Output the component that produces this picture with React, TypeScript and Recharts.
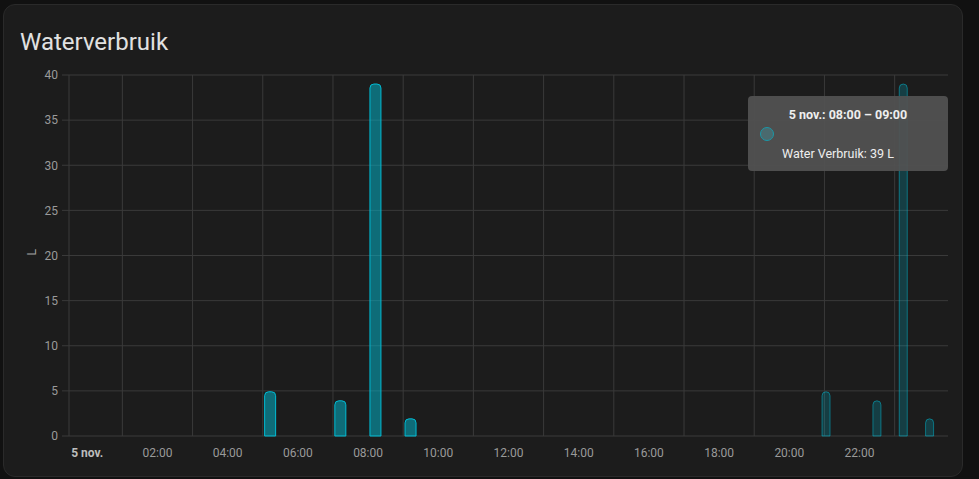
import { BarChart, Bar, XAxis, YAxis, CartesianGrid, Label } from 'recharts';

// hourly water usage on 5 nov. (x = hour of the day, as placed in the picture)
const usageHours = [5.2, 7.2, 8.2, 9.2];
const usageLitres = [4.9, 3.9, 39, 1.9];
// second (faded) series
const compareHours = [21.05, 22.5, 23.25, 24.0];
const compareLitres = [4.9, 3.9, 39, 1.9];

const gridHours = [1, 3, 5, 7, 9, 11, 13, 15, 17, 19, 21, 23];
const labelHours = [0, 2, 4, 6, 8, 10, 12, 14, 16, 18, 20, 22];
const labelTexts = ['5 nov.', '02:00', '04:00', '06:00', '08:00', '10:00', '12:00', '14:00', '16:00', '18:00', '20:00', '22:00'];
const yTicks = [0, 5, 10, 15, 20, 25, 30, 35, 40];

const tooltipTitle = '5 nov.: 08:00 – 09:00';
const seriesName = 'Water Verbruik';
const tooltipValue = usageLitres[2];
const unit = 'L';

const data = [
  ...usageHours.map((t, i) => ({ t, usage: usageLitres[i], compare: null as number | null })),
  ...compareHours.map((t, i) => ({ t, usage: null as number | null, compare: compareLitres[i] })),
];

const CYAN = '#00bcd4';
const GRID = '#3a3a3a';

const HourLabel = (props: any) => {
  const { x, y, payload } = props;
  const idx = labelHours.indexOf(payload.value);
  const first = idx === 0;
  return (
    <text
      x={x}
      y={y - 9}
      textAnchor="middle"
      fontSize={12}
      fontWeight={first ? 700 : 400}
      fill={first ? '#bdbdbd' : '#9a9a9a'}
    >
      {labelTexts[idx]}
    </text>
  );
};

const NoLabel = () => <g />;

export default function App() {
  return (
    <div style={{ position: 'fixed', inset: 0, background: '#111111', fontFamily: 'Roboto, sans-serif' }}>
      <div
        style={{
          position: 'absolute',
          left: 3,
          top: 4,
          width: 958,
          height: 471,
          background: '#1c1c1c',
          border: '1px solid #2a2a2a',
          borderRadius: 12,
        }}
      />
      <div
        style={{
          position: 'absolute',
          left: 20,
          top: 27,
          fontSize: 24,
          color: '#e1e1e1',
          lineHeight: '30px',
        }}
      >
        Waterverbruik
      </div>
      <div style={{ position: 'absolute', left: 0, top: 0 }}>
        <BarChart
          width={979}
          height={479}
          data={data}
          margin={{ top: 75, right: 31, left: 0, bottom: 13 }}
          style={{ fontFamily: 'Roboto, sans-serif' }}
        >
          <CartesianGrid stroke={GRID} xAxisId="grid" syncWithTicks />
          <XAxis
            xAxisId="grid"
            dataKey="t"
            type="number"
            domain={[-0.52, 24.52]}
            allowDataOverflow
            ticks={gridHours}
            interval={0}
            height={0}
            tickSize={8}
            tick={NoLabel}
            tickLine={{ stroke: GRID }}
            axisLine={{ stroke: '#555555' }}
          />
          <XAxis
            xAxisId="labels"
            dataKey="t"
            type="number"
            domain={[-0.52, 24.52]}
            allowDataOverflow
            ticks={labelHours}
            height={30}
            tickSize={0}
            tickMargin={0}
            tickLine={false}
            axisLine={false}
            tick={HourLabel}
            interval={0}
          />
          <XAxis xAxisId="compare" dataKey="t" type="number" domain={[-0.52, 24.52]} allowDataOverflow hide />
          <YAxis
            width={69}
            domain={[0, 40]}
            ticks={yTicks}
            tickSize={7}
            tickMargin={4}
            tick={{ fill: '#9a9a9a', fontSize: 12 }}
            tickLine={{ stroke: GRID }}
            axisLine={{ stroke: GRID }}
          >
            <Label value={unit} angle={-90} position="insideLeft" offset={32} fill="#a0a0a0" fontSize={12} />
          </YAxis>
          <Bar
            xAxisId="grid"
            dataKey="usage"
            barSize={11}
            fill={CYAN}
            fillOpacity={0.5}
            stroke={CYAN}
            strokeWidth={1}
            radius={[4, 4, 0, 0]}
            isAnimationActive={false}
          />
          <Bar
            xAxisId="compare"
            dataKey="compare"
            barSize={8}
            fill={CYAN}
            fillOpacity={0.22}
            stroke={CYAN}
            strokeOpacity={0.5}
            strokeWidth={1}
            radius={[4, 4, 0, 0]}
            isAnimationActive={false}
          />
        </BarChart>
      </div>
      <div
        style={{
          position: 'absolute',
          left: 748,
          top: 96,
          width: 200,
          height: 75,
          background: 'rgba(82,82,82,0.93)',
          borderRadius: 4,
          color: '#eeeeee',
          fontSize: 12.5,
          boxSizing: 'border-box',
        }}
      >
        <div style={{ position: 'absolute', top: 11, left: 0, right: 0, textAlign: 'center', fontWeight: 700 }}>
          {tooltipTitle}
        </div>
        <div
          style={{
            position: 'absolute',
            left: 12,
            top: 31,
            width: 14,
            height: 14,
            borderRadius: '50%',
            background: '#4a6a6e',
            border: '1px solid #1a98a8',
            boxSizing: 'border-box',
          }}
        />
        <div style={{ position: 'absolute', left: 34, top: 50 }}>
          {seriesName}: {tooltipValue} {unit}
        </div>
      </div>
    </div>
  );
}
